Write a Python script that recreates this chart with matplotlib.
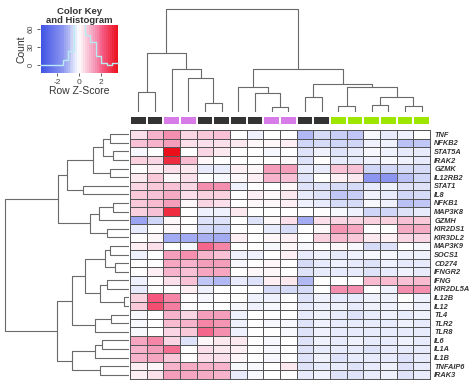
import matplotlib
matplotlib.use("Agg")
import matplotlib.pyplot as plt
import numpy as np
from matplotlib.colors import LinearSegmentedColormap, ListedColormap

plt.rcParams['font.family'] = ['Liberation Sans', 'DejaVu Sans']

genes = ["TNF", "NFKB2", "STAT5A", "IRAK2", "GZMK", "IL12RB2", "STAT1", "IL8",
         "NFKB1", "MAP3K8", "GZMH", "KIR2DS1", "KIR3DL2", "MAP3K9", "SOCS1",
         "CD274", "IFNGR2", "IFNG", "KIR2DL5A", "IL12B", "IL12", "TL4", "TLR2",
         "TLR8", "IL6", "IL1A", "IL1B", "TNFAIP6", "IRAK3"]

# row z-scores, one list per gene, 18 samples in dendrogram order
z_scores = [
    [0.4, 1.0, 1.5, 0.5, 0.7, 0.8, 0.0, -0.2, 0.0, 0.0, -1.0, -0.5, -0.7, -0.8, -0.1, -0.3, -0.2, 0.0],
    [0.8, 1.0, 1.3, 0.4, 0.4, 0.4, 0.3, 0.1, 0.1, 0.2, -0.6, -0.5, -0.6, -0.6, -0.2, -0.2, -0.9, -0.8],
    [-0.1, 0.0, 3.5, 0.0, 0.5, 0.3, 0.0, 0.0, -0.1, 0.0, -0.4, -0.2, -0.4, -0.3, -0.1, -0.2, -0.3, -0.3],
    [0.6, 0.5, 3.0, 0.9, 0.1, 0.0, 0.0, 0.0, 0.0, 0.1, -0.4, 0.0, -0.3, -0.3, -0.2, -0.1, -0.2, -0.3],
    [0.0, 0.2, 0.4, 0.3, -0.3, -0.3, 0.2, 0.1, 1.3, 1.3, -0.3, -0.3, 0.8, 0.8, -0.6, -0.6, -0.5, -0.5],
    [0.3, 0.7, 0.1, 0.4, 0.0, -0.1, 0.1, 0.2, 1.0, 0.8, -0.4, 0.0, 0.2, 0.3, -1.5, -1.5, -0.9, -0.6],
    [0.5, 0.7, 0.8, 0.5, 1.5, 1.5, -0.2, 0.0, 0.0, 0.1, -0.4, -0.4, -0.5, -0.5, -0.3, -0.2, -0.4, -0.4],
    [0.7, 0.8, 1.1, 0.4, 0.6, 0.6, 0.0, 0.2, 0.1, 0.3, -0.3, -0.4, -0.8, -0.7, -0.2, -0.3, -0.6, -0.5],
    [0.7, 0.9, 1.3, 0.1, 0.5, 0.4, 0.0, 0.1, 0.1, 0.2, -0.2, -0.3, -0.5, -0.5, -0.1, -0.2, -0.9, -0.8],
    [0.6, 0.8, 3.0, 0.0, -0.2, -0.2, 0.3, 0.0, 0.0, 0.0, 0.0, 0.0, -0.1, -0.2, -0.6, -0.6, -0.4, -0.3],
    [-1.3, -0.6, 0.1, 0.0, -0.4, -0.4, 0.0, -0.4, 0.1, 0.4, -1.2, 0.4, 0.5, 0.5, 0.6, 0.6, 0.8, 0.7],
    [-0.3, 0.0, 0.1, 0.0, -0.5, -0.6, 0.0, 0.0, -0.3, -0.5, 0.0, 0.1, 1.4, 1.2, 0.0, 0.0, 1.1, 1.1],
    [0.0, 0.1, -1.2, -1.2, -1.1, -1.2, 0.2, 0.0, 0.1, 0.2, 0.0, 0.6, 0.9, 0.7, 0.3, 0.2, 0.5, 0.5],
    [0.2, 0.4, 0.0, -0.1, 2.0, 1.6, 0.0, 0.0, -0.1, 0.1, -0.1, 0.0, 0.1, -0.1, -0.5, -0.4, 0.0, -0.1],
    [-0.2, 0.0, 1.3, 1.5, 1.0, 0.8, -0.2, -0.2, 0.0, 0.2, -0.3, -0.2, -0.3, -0.2, -0.1, -0.1, -0.2, -0.2],
    [0.0, 0.0, 1.2, 1.0, 1.3, 1.3, -0.1, 0.0, 0.1, 0.0, -0.5, -0.3, -0.2, -0.3, -0.4, -0.2, -0.3, -0.3],
    [0.0, 0.2, 1.0, 0.8, 1.2, 1.2, 0.0, 0.1, 0.1, 0.0, -0.4, -0.3, -0.3, -0.3, -0.4, -0.3, -0.2, -0.3],
    [-0.2, 0.0, 0.4, 0.8, -0.8, -1.0, -0.3, -0.4, 0.2, 0.3, -1.0, 0.0, 0.0, 0.0, 0.9, 0.9, 0.8, 0.9],
    [-0.3, 0.0, 0.0, 0.2, -0.2, 0.0, 0.0, 0.0, -0.5, -0.5, -0.5, 0.0, 1.5, 1.5, 0.0, -0.2, 1.5, 1.5],
    [0.6, 2.2, 1.6, 0.0, -0.1, 0.0, 0.0, -0.2, -0.2, 0.0, -0.4, -0.2, -0.3, -0.3, -0.2, -0.2, 0.0, -0.2],
    [0.7, 2.4, 1.7, 0.0, 0.0, 0.0, -0.1, -0.2, -0.1, 0.0, -0.3, -0.2, -0.2, -0.3, -0.2, -0.2, -0.1, -0.2],
    [-0.1, 0.0, 1.0, 0.5, 1.3, 1.3, -0.2, 0.0, 0.0, 0.0, -0.3, -0.2, -0.3, -0.4, -0.3, -0.2, -0.3, -0.2],
    [-0.1, 0.0, 0.9, 1.0, 1.6, 1.4, -0.2, 0.0, -0.1, -0.1, -0.4, -0.2, -0.3, -0.3, -0.3, -0.3, -0.2, -0.3],
    [-0.1, 0.0, 0.5, 0.7, 2.0, 1.5, -0.2, 0.0, 0.0, -0.1, -0.4, -0.2, -0.3, -0.3, -0.3, -0.3, -0.3, -0.3],
    [1.2, 1.6, 0.5, -0.4, 0.1, 0.3, 0.3, 0.0, -0.1, 0.0, -0.4, -0.2, -0.3, -0.2, -0.3, -0.3, -0.2, -0.3],
    [1.0, 1.3, 1.9, 0.0, 0.4, 0.3, 0.2, 0.0, -0.1, 0.0, -0.4, -0.3, -0.3, -0.3, -0.4, -0.3, -0.3, -0.3],
    [1.0, 1.2, 0.7, 0.0, 0.4, 0.4, 0.1, 0.0, -0.1, 0.0, -0.4, -0.2, -0.4, -0.3, -0.3, -0.3, -0.4, -0.3],
    [0.2, 0.1, 1.0, 1.1, 1.0, 1.0, -0.1, -0.1, 0.0, 0.3, -0.4, -0.3, -0.3, -0.4, -0.3, -0.2, -0.4, -0.3],
    [0.2, 0.4, 1.3, 1.2, 1.1, 1.0, -0.3, -0.1, 0.0, 0.0, -0.3, -0.2, -0.4, -0.4, -0.3, -0.2, -0.4, -0.3],
]

sample_groups = ["black", "black", "pink", "pink", "black", "black", "black", "black",
                 "pink", "pink", "black", "black", "green", "green", "green", "green",
                 "green", "green"]
group_colors = {"black": "#333333", "pink": "#d77be9", "green": "#9ce600"}

# dendrograms: leaf = index, node = [left, right, merge height]
col_tree = [[[0, 1, 20], [2, [3, [4, 5, 9], 34], 43], 59],
            [[6, [7, [8, 9, 5], 19], 25],
             [[10, 11, 15], [[12, 13, 6], [[14, 15, 7], [16, 17, 6], 15], 25], 28], 43],
            103]
row_tree = [[[[[[0, 1, 19], [2, 3, 16], 26], [4, 5, 19], 36], [6, 7, 46], 62],
             [[[8, 9, 16], 10, 30], [11, 12, 22], 39], 71],
            [[[[[13, 14, 19], [15, 16, 14], 24], [[17, 18, 22], [19, 20, 5], 29], 44],
              [[21, 22, 18], 23, 34], 57],
             [[[24, 25, 27], 26, 34], [27, 28, 29], 57], 72],
            124]

Z = np.array(z_scores)
n_rows, n_cols = Z.shape

cmap = LinearSegmentedColormap.from_list("key", [
    (0.0, (60/255, 80/255, 228/255)),
    (2.0/7, (140/255, 150/255, 240/255)),
    (3.0/7, (215/255, 220/255, 248/255)),
    (0.5, (1, 1, 1)),
    (4.0/7, (250/255, 215/255, 228/255)),
    (4.8/7, (245/255, 158/255, 188/255)),
    (5.7/7, (245/255, 88/255, 128/255)),
    (1.0, (235/255, 15/255, 25/255)),
])
vmin, vmax = -3.5, 3.5
line_col = "#6a6a6a"

fig = plt.figure(figsize=(4.74, 3.89), dpi=100)
W, H = 474.0, 389.0

def axes_px(x0, y0, x1, y1):
    return fig.add_axes([x0 / W, 1 - y1 / H, (x1 - x0) / W, (y1 - y0) / H])

def draw_tree(ax, node, horizontal):
    if isinstance(node, int):
        return node + 0.5, 0.0
    left, right, h = node
    p1, h1 = draw_tree(ax, left, horizontal)
    p2, h2 = draw_tree(ax, right, horizontal)
    pos = [p1, p1, p2, p2]
    hts = [h1, h, h, h2]
    if horizontal:
        ax.plot(hts, pos, color=line_col, lw=0.8, solid_capstyle="butt")
    else:
        ax.plot(pos, hts, color=line_col, lw=0.8, solid_capstyle="butt")
    return (p1 + p2) / 2, h

# heatmap
ax = axes_px(130, 130, 430, 379)
ax.pcolormesh(np.arange(n_cols + 1), np.arange(n_rows + 1), Z, cmap=cmap,
              vmin=vmin, vmax=vmax, edgecolors="#555555", linewidth=0.7)
ax.set_xlim(0, n_cols)
ax.set_ylim(n_rows, 0)
ax.set_xticks([])
ax.yaxis.tick_right()
ax.set_yticks(np.arange(n_rows) + 0.5)
ax.set_yticklabels(genes, fontsize=5.3, fontstyle="italic", fontweight="bold", color="#333333")
ax.tick_params(axis="y", length=0, pad=3)
for s in ax.spines.values():
    s.set_color("#555555")
    s.set_linewidth(0.7)

# sample colour bar
ax_cb = axes_px(130, 116, 430, 125)
codes = [[list(group_colors).index(g) for g in sample_groups]]
ax_cb.pcolormesh(np.arange(n_cols + 1), [0, 1], codes,
                 cmap=ListedColormap(list(group_colors.values())), vmin=-0.5, vmax=2.5,
                 edgecolors="white", linewidth=1.2)
ax_cb.set_xlim(0, n_cols)
ax_cb.axis("off")

# column dendrogram
ax_cd = axes_px(130, 8, 430, 112)
draw_tree(ax_cd, col_tree, False)
ax_cd.set_xlim(0, n_cols)
ax_cd.set_ylim(0, 104)
ax_cd.axis("off")

# row dendrogram
ax_rd = axes_px(4, 130, 129, 379)
draw_tree(ax_rd, row_tree, True)
ax_rd.set_xlim(125, 0)
ax_rd.set_ylim(n_rows, 0)
ax_rd.axis("off")

# colour key with histogram
ax_k = axes_px(40, 25, 119, 73)
edges = np.linspace(vmin, vmax, 41)
mids = (edges[:-1] + edges[1:]) / 2
ax_k.pcolormesh(edges, [-13, 67], [mids], cmap=cmap, vmin=vmin, vmax=vmax)
counts, hb = np.histogram(Z.ravel(), bins=np.linspace(vmin, vmax, 15))
ax_k.step(hb, np.append(counts, counts[-1]), where="post", color="#b8ecf2", lw=1)
ax_k.set_xlim(-3.55, 3.6)
ax_k.set_ylim(-13, 67)
ax_k.set_xticks([-2, 0, 2])
ax_k.set_xticklabels(["-2", "0", "2"], fontsize=6, color="#333333")
ax_k.set_yticks([0, 30, 60])
ax_k.set_yticklabels(["0", "30", "60"], fontsize=5.5, rotation=90, va="center", color="#333333")
ax_k.tick_params(length=2.5, width=0.6, pad=1.5, colors="#444444")
for s in ax_k.spines.values():
    s.set_visible(False)
ax_k.set_xlabel("Row Z-Score", fontsize=7.5, labelpad=0, color="#333333")
ax_k.set_ylabel("Count", fontsize=7.5, labelpad=1, color="#333333")
ax_k.set_title("Color Key\nand Histogram", fontsize=6.8, fontweight="bold",
               linespacing=1.0, pad=1, color="#333333")

fig.savefig("out.png", dpi=100)
